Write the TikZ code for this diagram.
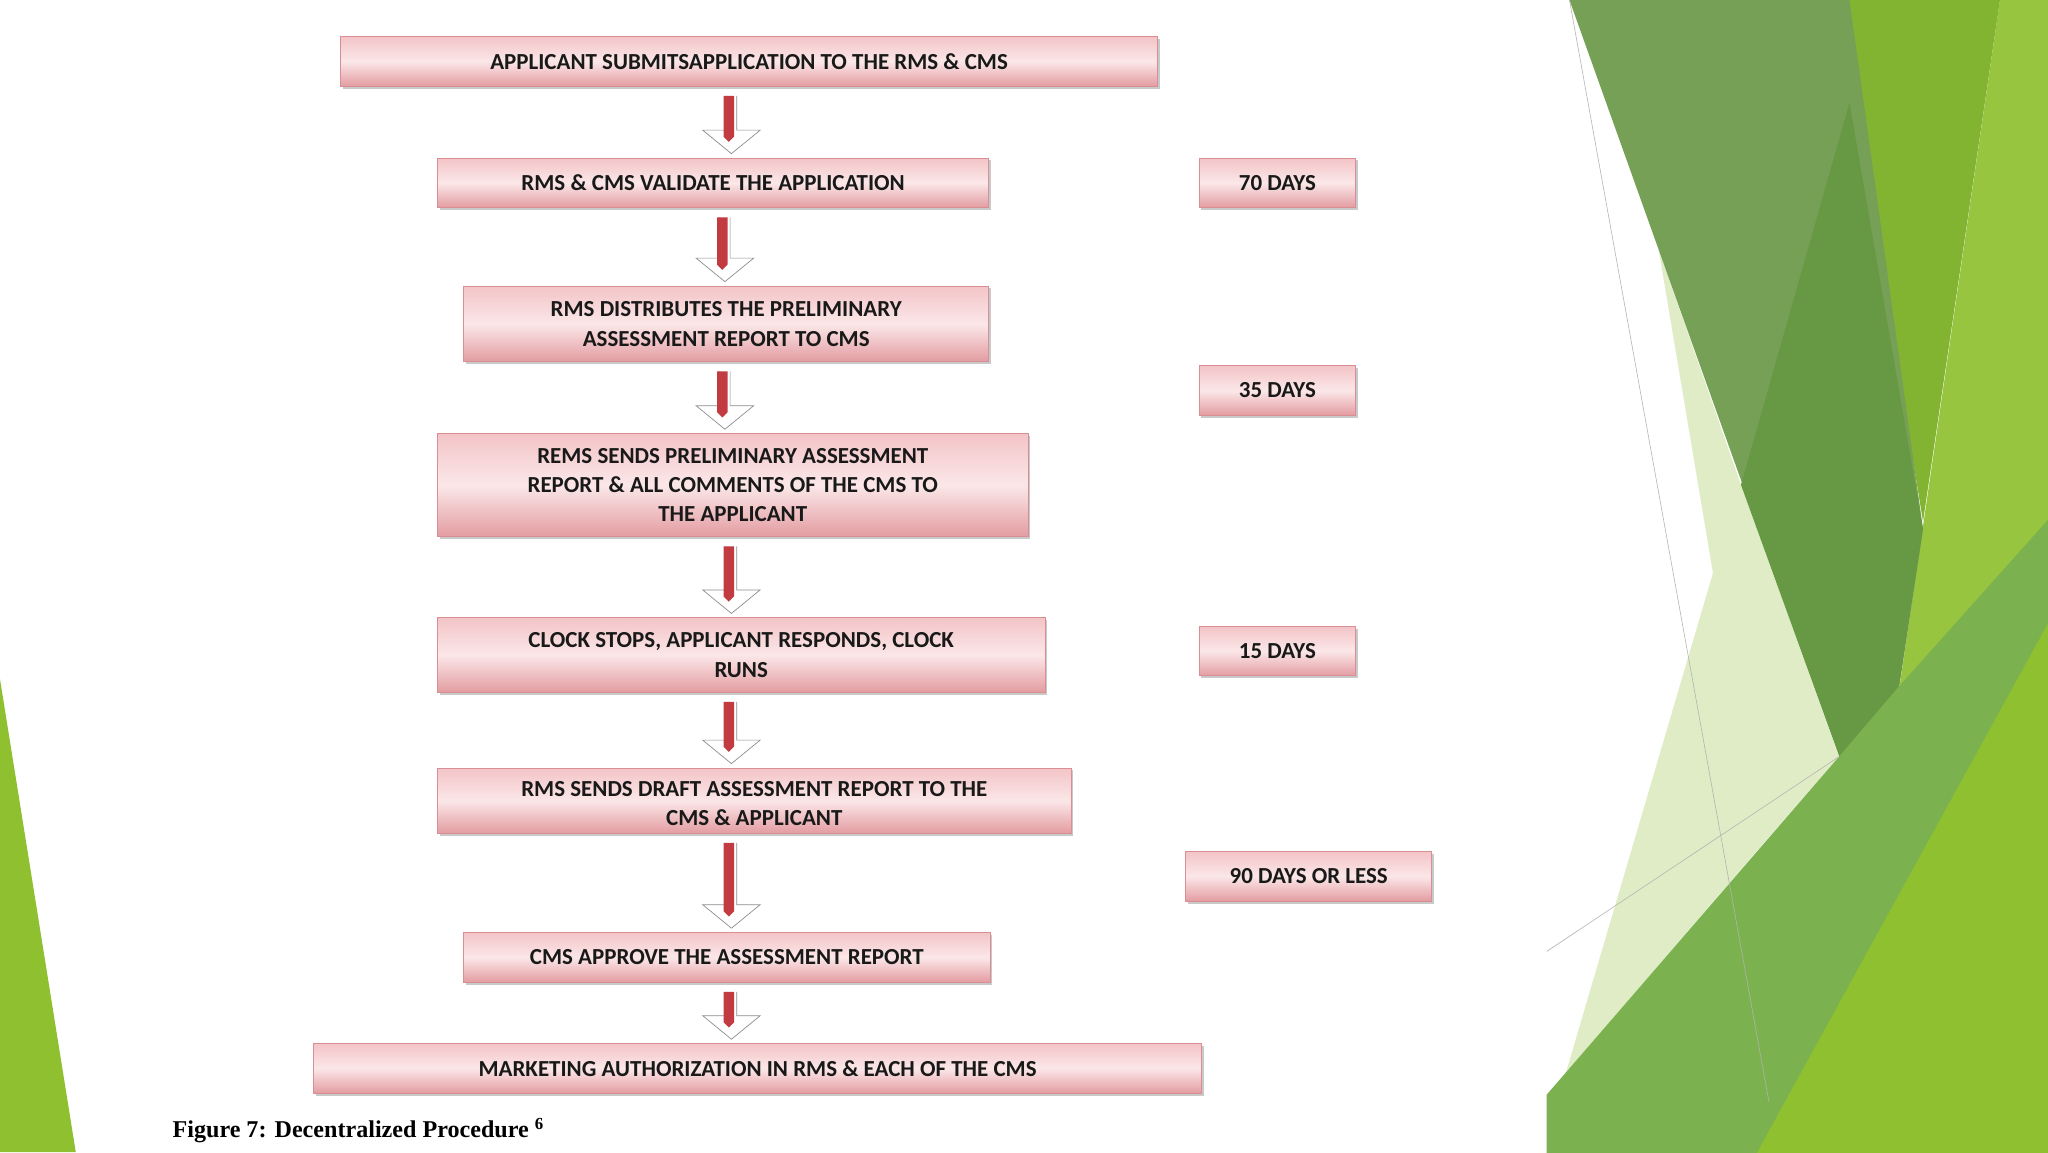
\documentclass[tikz,border=0pt]{standalone}
\usepackage{fontspec}
\setmainfont{Carlito}
\newfontfamily\capfont{Liberation Serif}
\usetikzlibrary{calc,shadows}
\definecolor{boxedge}{HTML}{D98E94}
\definecolor{boxtop}{HTML}{F3C4C7}
\definecolor{boxmid}{HTML}{FBE7E8}
\definecolor{boxbot}{HTML}{E39CA1}
\definecolor{arrred}{HTML}{C23B40}
\definecolor{gA}{HTML}{77A057}
\definecolor{gD}{HTML}{679843}
\definecolor{gL}{HTML}{82B432}
\definecolor{gXL}{HTML}{98C53F}
\definecolor{gP}{HTML}{DFECC6}
\definecolor{gB}{HTML}{7BB24F}
\definecolor{gBR}{HTML}{8FC02F}
\tikzset{
 btext/.style={inner sep=0pt, align=center, font=\fontsize{20}{25.5}\selectfont\bfseries, text=black!90},
 box/.style={btext, draw=boxedge, line width=0.8pt, top color=boxtop, bottom color=boxbot, middle color=boxmid,
   drop shadow={shadow xshift=2pt, shadow yshift=-2pt, fill=black!35, opacity=0.6}},
 chev/.style={fill=white, draw=black!45, line width=0.6pt, line join=miter},
 bar/.style={fill=arrred, draw=none},
 thin/.style={draw=black!30, line width=0.5pt}
}
\newcommand{\flowarr}[3]{%
 \path let \p1=(#1.south), \p2=(#2.north) in
   coordinate (t) at (#3,\y1-7*0.04cm) coordinate (b) at (#3,\y2+3*0.04cm);
 \path let \p1=(t), \p2=(b) in
   [chev] (\x1-4*0.04cm,\y1) -- (\x1-4*0.04cm,\y2+18*0.04cm) -- (\x1-22*0.04cm,\y2+18*0.04cm) -- (\x1,\y2)
     -- (\x1+22*0.04cm,\y2+18*0.04cm) -- (\x1+4*0.04cm,\y2+18*0.04cm) -- (\x1+4*0.04cm,\y1);
 \path let \p1=(t), \p2=(b) in [bar] (\x1-6*0.04cm,\y1) rectangle (\x1+2*0.04cm,\y2+13*0.04cm)
   (\x1-6*0.04cm,\y2+13*0.04cm) -- (\x1-2*0.04cm,\y2+9*0.04cm) -- (\x1+2*0.04cm,\y2+13*0.04cm) -- cycle;
}
\begin{document}
\begin{tikzpicture}[x=0.04cm,y=-0.04cm]
\useasboundingbox (0,0) rectangle (1568,882);
\fill[white] (0,0) rectangle (1568,882);
\begin{scope}
\clip (0,0) rectangle (1568,882);
\fill[gBR] (0,520) -- (58,882) -- (0,882) -- cycle;
\begin{scope}[shift={(1148,0)}, xscale=0.268, yscale=0.5625]
 \fill[gXL] (1430,0) -- (1600,0) -- (1600,1600) -- (1040,1270) -- cycle;
 \fill[gL] (970,0) -- (1430,0) -- (1210,710) -- cycle;
 \fill[gP] (455,340) -- (690,660) -- (970,1030) -- (750,1150) -- (190,1460) -- (610,780) -- cycle;
 \fill[gA] (200,0) -- (1000,0) -- (1210,720) -- (1070,1160) -- cycle;
 \fill[gD] (1000,140) -- (690,660) -- (1070,1160) -- (1210,720) -- cycle;
 \fill[gL!60!white, opacity=0.7] (1140,935) -- (1310,1020) -- (1040,1270) -- cycle;
 \fill[gB] (135,1490) -- (970,1030) -- (1140,935) -- (1600,690) -- (1600,1600) -- (135,1600) -- cycle;
 \fill[gBR] (700,1600) -- (1600,820) -- (1600,1600) -- cycle;
 \draw[thin] (200,0) -- (770,1500);
 \draw[thin] (135,1295) -- (970,1030);
\end{scope}
\end{scope}
\node[box, minimum width=25cm, minimum height=1.52cm] (n1) at (573.5,47) {APPLICANT SUBMITSAPPLICATION TO THE RMS \& CMS};
\node[box, minimum width=16.88cm, minimum height=1.52cm] (n2) at (546,140) {RMS \& CMS VALIDATE THE APPLICATION};
\node[box, minimum width=16.08cm, minimum height=2.32cm] (n3) at (556,248) {RMS DISTRIBUTES THE PRELIMINARY\\ASSESSMENT REPORT TO CMS};
\node[box, minimum width=18.08cm, minimum height=3.16cm] (n4) at (561,371.5) {REMS SENDS PRELIMINARY ASSESSMENT\\REPORT \& ALL COMMENTS OF THE CMS TO\\THE APPLICANT};
\node[box, minimum width=18.6cm, minimum height=2.28cm] (n5) at (567.5,501.5) {CLOCK STOPS, APPLICANT RESPONDS, CLOCK\\RUNS};
\node[box, minimum width=19.4cm, minimum height=2.0cm] (n6) at (577.5,613) {};
\begin{scope}
 \clip (n6.south west) rectangle (n6.north east);
 \node[btext] (n6t) at (577.5,615) {RMS SENDS DRAFT ASSESSMENT REPORT TO THE\\CMS \& APPLICANT};
\end{scope}
\node[box, minimum width=16.12cm, minimum height=1.52cm] (n7) at (556.5,733) {CMS APPROVE THE ASSESSMENT REPORT};
\node[box, minimum width=27.2cm, minimum height=1.52cm] (n8) at (580,818) {MARKETING AUTHORIZATION IN RMS \& EACH OF THE CMS};
\node[box, minimum width=4.8cm, minimum height=1.52cm] (d1) at (978,140) {70 DAYS};
\node[box, minimum width=4.8cm, minimum height=1.52cm] (d2) at (978,299) {35 DAYS};
\node[box, minimum width=4.8cm, minimum height=1.52cm] (d3) at (978,498.5) {15 DAYS};
\node[box, minimum width=7.52cm, minimum height=1.52cm] (d4) at (1002,671) {90 DAYS OR LESS};
\flowarr{n1}{n2}{560}
\flowarr{n2}{n3}{555}
\flowarr{n3}{n4}{555}
\flowarr{n4}{n5}{560}
\flowarr{n5}{n6}{560}
\flowarr{n6}{n7}{560}
\flowarr{n7}{n8}{560}
\node[anchor=base west, inner sep=0pt, font=\capfont\fontsize{21}{24}\selectfont\bfseries] (cap) at (132,871) {Figure 7: Decentralized Procedure \textsuperscript{6}};
\end{tikzpicture}
\end{document}
